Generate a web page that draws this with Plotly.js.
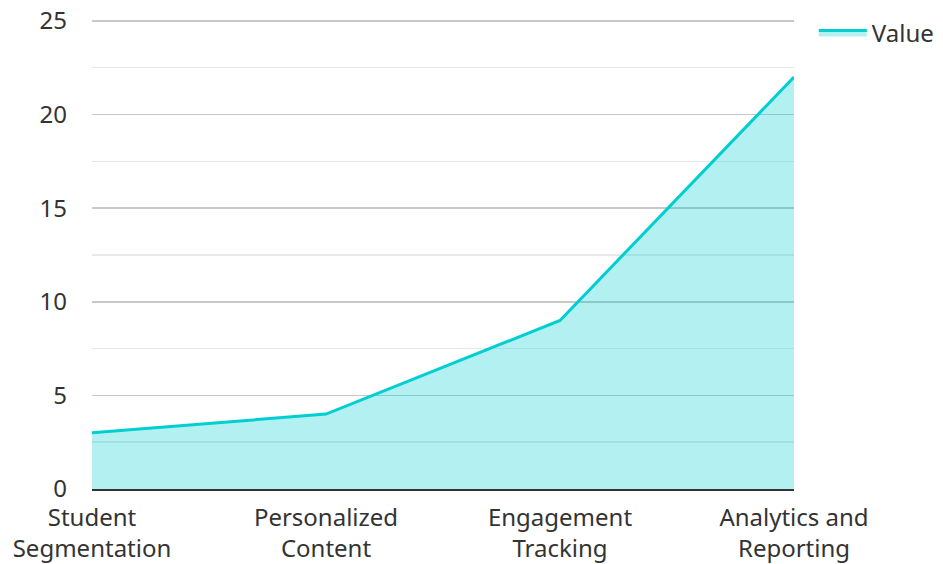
<!DOCTYPE html>
<html>
<head>
<meta charset="utf-8">
<script src="https://cdn.plot.ly/plotly-3.0.1.min.js"></script>
<style>html,body{margin:0;padding:0;background:#fff;}#chart{width:943px;height:564px;}</style>
</head>
<body>
<div id="chart"></div>
<script>
const categories = ["Student<br>Segmentation", "Personalized<br>Content", "Engagement<br>Tracking", "Analytics and<br>Reporting"];
const values = [3, 4, 9, 22];
const seriesName = "Value";
const yTicks = [0, 5, 10, 15, 20, 25];

const trace = {
  x: categories,
  y: values,
  name: seriesName,
  type: 'scatter',
  mode: 'lines',
  fill: 'tozeroy',
  fillcolor: 'rgba(0,206,209,0.3)',
  line: {color: '#00CED1', width: 3},
  hoverinfo: 'x+y'
};

const layout = {
  width: 943, height: 564,
  margin: {l: 92, r: 149, t: 19, b: 75},
  paper_bgcolor: '#fff', plot_bgcolor: '#fff',
  font: {family: '"Noto Sans", "Open Sans", sans-serif', size: 24, color: '#333'},
  showlegend: true,
  legend: {xref: 'container', yref: 'container', x: 0.863, y: 0.9415, xanchor: 'left', yanchor: 'middle',
           itemwidth: 48, font: {size: 24, color: '#333'}, bgcolor: 'rgba(0,0,0,0)'},
  xaxis: {
    type: 'category', range: [0, 3], showgrid: false, zeroline: false,
    showline: true, linecolor: '#333', linewidth: 2, ticks: '', tickfont: {size: 24, color: '#333'},
    ticklabelstandoff: 6, automargin: false
  },
  yaxis: {
    range: [0, 25.1], tickvals: yTicks, showgrid: true, gridcolor: '#c8c8c8', gridwidth: 1.5,
    zeroline: false, showline: false, ticks: '', ticklabelstandoff: 24,
    minor: {dtick: 2.5, showgrid: true, gridcolor: '#e8e8e8', gridwidth: 1.5},
    tickfont: {size: 24, color: '#333'}, automargin: false
  }
};

Plotly.newPlot('chart', [trace], layout, {displayModeBar: false, staticPlot: true});
</script>
</body>
</html>
